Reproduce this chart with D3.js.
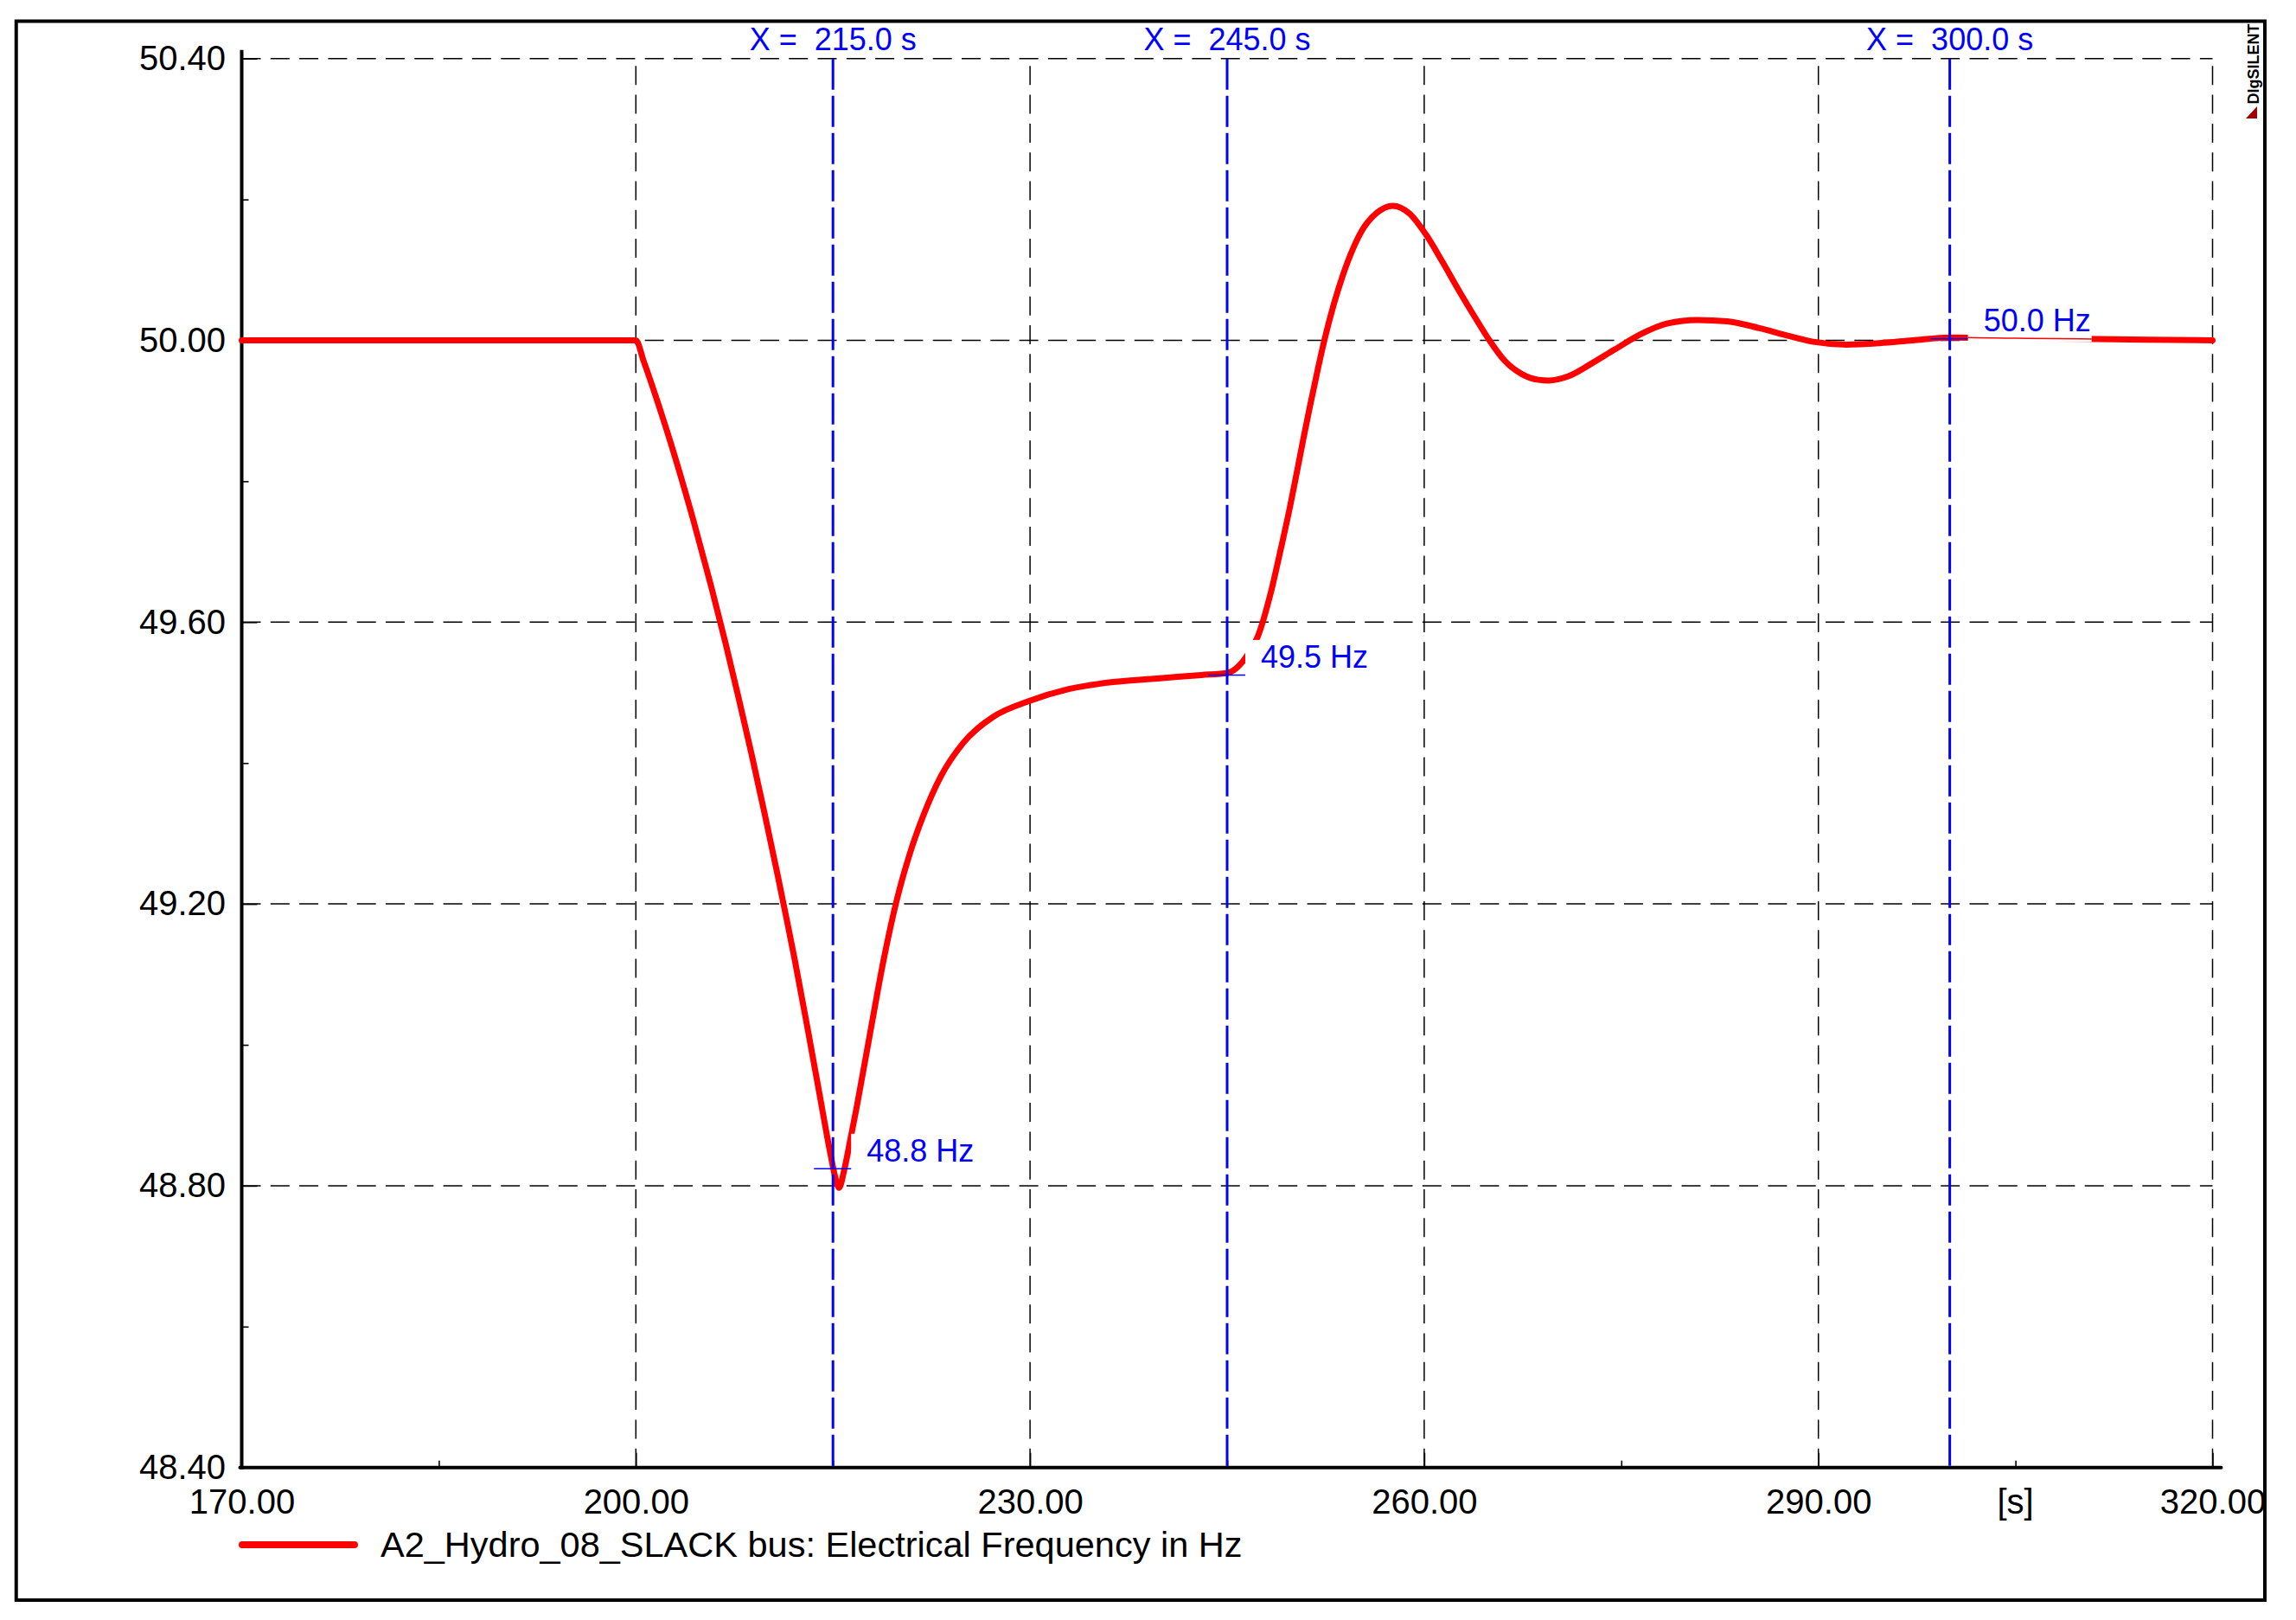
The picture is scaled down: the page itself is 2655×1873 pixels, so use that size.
<!DOCTYPE html>
<html>
<head>
<meta charset="utf-8">
<script src="https://cdn.jsdelivr.net/npm/d3@7"></script>
<style>
  html, body { margin: 0; padding: 0; background: #ffffff; }
  svg { display: block; }
  text { font-family: "Liberation Sans", Arial, sans-serif; }
</style>
</head>
<body>
<svg id="chart" width="2655" height="1873"></svg>
<script>
// ---------- data ----------
const time = [170, 200, 200.6, 201.7, 203.1, 204.4, 205.7, 206.8, 207.8, 208.8, 209.8, 210.8, 211.5, 212.1,
  213.1, 213.9, 214.8, 215.1, 215.3, 215.45, 215.9, 216.35, 216.83, 217.84, 218.85, 219.85, 220.86, 221.87,
  223.21, 224.89, 227.24, 229.93, 232.95, 236.31, 239.67, 243.03, 245.05, 246.0, 246.7, 247.3, 248.3,
  249.1, 249.8, 250.3, 250.8, 251.3, 251.8, 252.4, 253.1, 253.8, 254.6, 255.4, 256.4, 257.6,
  258.88, 260.14, 261.40, 262.66, 263.92, 264.93, 266.18, 267.44, 268.70, 269.46, 270.97, 272.73, 274.50,
  276.51, 278.53, 280.79, 283.06, 285.58, 287.60, 289.61, 292.13, 294.65, 297.17, 300.04, 305, 310, 315, 320];
const freq = [50.000, 50.000, 49.970, 49.910, 49.827, 49.743, 49.653, 49.572, 49.494, 49.413, 49.328, 49.240, 49.176, 49.120,
  49.020, 48.938, 48.846, 48.818, 48.803, 48.797, 48.826, 48.868, 48.914, 49.018, 49.120, 49.205, 49.272, 49.325,
  49.381, 49.428, 49.466, 49.488, 49.505, 49.515, 49.520, 49.525, 49.528, 49.540, 49.558, 49.578, 49.640,
  49.705, 49.765, 49.812, 49.860, 49.906, 49.950, 50.000, 50.050, 50.092, 50.131, 50.160, 50.181, 50.191,
  50.180, 50.150, 50.111, 50.070, 50.031, 50.001, 49.970, 49.952, 49.944, 49.943, 49.949, 49.967, 49.987,
  50.009, 50.024, 50.029, 50.027, 50.017, 50.007, 49.998, 49.994, 49.996, 50.000, 50.004, 50.003, 50.002, 50.001, 50.000];

const xTicks = [170, 200, 230, 260, 290, 320];
const xMinorTicks = [185, 215, 245, 275, 305];
const yTicks = [48.4, 48.8, 49.2, 49.6, 50.0, 50.4];
const yMinorTicks = [48.6, 49.0, 49.4, 49.8, 50.2];
const xUnitLabel = "[s]";
const xUnitAt = 305;

const cursorTimes = [215, 245, 300];
const cursorLabels = ["X =  215.0 s", "X =  245.0 s", "X =  300.0 s"];
const markerValues = [48.824, 49.525, 50.002];
const markerLabels = ["48.8 Hz", "49.5 Hz", "50.0 Hz"];
const legendLabel = "A2_Hydro_08_SLACK bus: Electrical Frequency in Hz";

// ---------- layout ----------
const X0 = 279.5, X1 = 2558.5, Y0 = 67.7, Y1 = 1696.7;
const RED = "#ff0000", BLUE = "#0000ff";
const FONT = '"Liberation Sans", Arial, sans-serif';

const svg = d3.select("#chart");
svg.append("rect").attr("width", 2655).attr("height", 1873).attr("fill", "#fff");

const x = d3.scaleLinear().domain([170, 320]).range([X0, X1]);
const y = d3.scaleLinear().domain([48.4, 50.4]).range([Y1, Y0]);

// outer frame
svg.append("rect").attr("x", 18.75).attr("y", 24.5).attr("width", 2619 - 18.75).attr("height", 1850 - 24.5)
  .attr("fill", "none").attr("stroke", "#000").attr("stroke-width", 4);

// grid
const grid = svg.append("g").attr("stroke", "#000").attr("stroke-width", 1.5).attr("stroke-dasharray", "22,11.3");
grid.selectAll("line.gx").data(xTicks.slice(1)).join("line")
  .attr("x1", d => x(d)).attr("x2", d => x(d)).attr("y1", Y1).attr("y2", Y0);
grid.selectAll("line.gy").data(yTicks.slice(1)).join("line")
  .attr("x1", X0).attr("x2", X1).attr("y1", d => y(d)).attr("y2", d => y(d));

// ticks (inside)
function styleAxis(g) {
  g.select(".domain").remove();
  g.selectAll(".tick line").attr("stroke", "#000").attr("stroke-width", 1.6);
}
svg.append("g").attr("transform", `translate(${X0},0)`)
  .call(d3.axisRight(y).tickValues(yTicks).tickSize(18).tickFormat(""))
  .call(styleAxis);
svg.append("g").attr("transform", `translate(${X0},0)`)
  .call(d3.axisRight(y).tickValues(yMinorTicks).tickSize(8).tickFormat(""))
  .call(styleAxis);
svg.append("g").attr("transform", `translate(0,${Y1})`)
  .call(d3.axisTop(x).tickValues(xTicks).tickSize(17).tickFormat(""))
  .call(styleAxis);
svg.append("g").attr("transform", `translate(0,${Y1})`)
  .call(d3.axisTop(x).tickValues(xMinorTicks).tickSize(8).tickFormat(""))
  .call(styleAxis);

// tick labels
const yAx = svg.append("g").attr("transform", `translate(${X0},0)`)
  .call(d3.axisLeft(y).tickValues(yTicks).tickSize(0).tickPadding(18.5).tickFormat(d3.format(".2f")));
yAx.select(".domain").remove();
yAx.selectAll("text").attr("font-family", FONT).attr("font-size", 40).attr("fill", "#000");

const xAx = svg.append("g").attr("transform", `translate(0,${Y1})`)
  .call(d3.axisBottom(x).tickValues(xTicks).tickSize(0).tickPadding(25).tickFormat(d3.format(".2f")));
xAx.select(".domain").remove();
xAx.selectAll("text").attr("font-family", FONT).attr("font-size", 40).attr("fill", "#000");

svg.append("text").attr("x", x(xUnitAt)).attr("y", Y1 + 25).attr("dy", "0.71em")
  .attr("text-anchor", "middle").attr("font-family", FONT).attr("font-size", 40).text(xUnitLabel);

// axis lines
svg.append("line").attr("x1", X0).attr("x2", X0).attr("y1", Y0 - 10).attr("y2", Y1 + 2)
  .attr("stroke", "#000").attr("stroke-width", 4);
svg.append("line").attr("x1", X0 - 2).attr("x2", X1 + 10).attr("y1", Y1).attr("y2", Y1)
  .attr("stroke", "#000").attr("stroke-width", 4).attr("stroke-linecap", "round");

// curve
const pts = time.map((t, i) => [t, freq[i]]);
const line = d3.line().x(d => x(d[0])).y(d => y(d[1])).curve(d3.curveMonotoneX);
svg.append("path").attr("d", line(pts)).attr("fill", "none").attr("stroke", RED)
  .attr("stroke-width", 7).attr("stroke-linejoin", "round").attr("stroke-linecap", "round");

// marker labels with white boxes
const labelG = svg.append("g");
cursorTimes.forEach((t, i) => {
  const cx = x(t), my = y(markerValues[i]);
  const tx = cx + 39, base = my - 8.5;
  const txt = labelG.append("text").attr("x", tx).attr("y", base)
    .attr("font-family", FONT).attr("font-size", 36).attr("fill", BLUE).text(markerLabels[i]);
  const w = txt.node().getComputedTextLength();
  const bx = tx - 18, by = base - 32, bw = w + 19, bh = 44;
  labelG.insert("rect", "text").attr("x", bx).attr("y", by).attr("width", bw).attr("height", bh).attr("fill", "#fff");
  if (i === 2) {
    const cid = "clipBox" + i;
    svg.append("clipPath").attr("id", cid).append("rect").attr("x", bx).attr("y", by).attr("width", bw).attr("height", bh);
    labelG.insert("path", "text").attr("d", line(pts)).attr("fill", "none").attr("stroke", RED)
      .attr("stroke-width", 1.5).attr("clip-path", `url(#${cid})`);
  }
});

// cursor lines and marker crosses
const cur = svg.append("g");
cursorTimes.forEach((t, i) => {
  const cx = x(t), my = y(markerValues[i]);
  cur.append("line").attr("x1", cx).attr("x2", cx).attr("y1", Y0).attr("y2", Y1)
    .attr("stroke", BLUE).attr("stroke-width", 3).attr("stroke-dasharray", "36,7");
  cur.append("line").attr("x1", cx - 22).attr("x2", cx + 23).attr("y1", my).attr("y2", my)
    .attr("stroke", BLUE).attr("stroke-width", 1.5);
  cur.append("text").attr("x", cx).attr("y", 57.5).attr("text-anchor", "middle")
    .attr("font-family", FONT).attr("font-size", 36).attr("fill", BLUE)
    .style("white-space", "pre").attr("xml:space", "preserve").text(cursorLabels[i]);
});
svg.node().appendChild(labelG.node()); // keep labels on top

// legend
svg.append("line").attr("x1", 280).attr("x2", 410).attr("y1", 1786).attr("y2", 1786)
  .attr("stroke", RED).attr("stroke-width", 8).attr("stroke-linecap", "round");
svg.append("text").attr("x", 440).attr("y", 1800).attr("font-family", FONT).attr("font-size", 41.5)
  .attr("fill", "#000").text(legendLabel);

// DIgSILENT mark
svg.append("text").attr("transform", "translate(2612,74) rotate(-90)").attr("text-anchor", "middle")
  .attr("font-family", FONT).attr("font-size", 18).attr("font-weight", "bold").attr("fill", "#000").text("DIgSILENT");
svg.append("path").attr("d", "M2610,123 L2610,137 L2597,137 Z").attr("fill", "#a00000");
</script>
</body>
</html>
